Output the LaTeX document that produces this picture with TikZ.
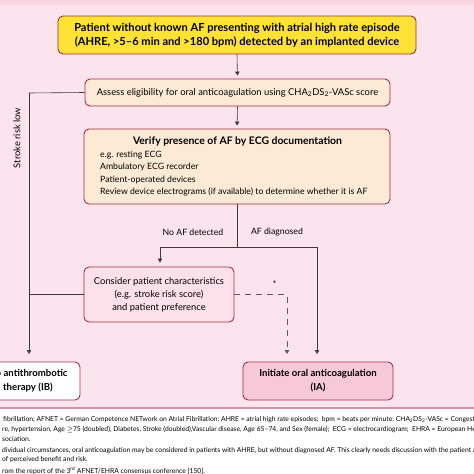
\documentclass[tikz,border=0pt]{standalone}
\usepackage{fontspec}
\setmainfont{Lato}
\usetikzlibrary{arrows.meta}
\definecolor{bgpink}{HTML}{FCE4EE}
\definecolor{toppink}{HTML}{F7D5E1}
\definecolor{boxred}{HTML}{9E2F45}
\definecolor{yel}{HTML}{FFE236}
\definecolor{peach}{HTML}{FCEAD6}
\definecolor{lpink}{HTML}{FCE1EA}
\definecolor{mpink}{HTML}{F7C9D8}
\definecolor{rulepink}{HTML}{D68FA8}
\definecolor{linegray}{HTML}{3A3A3A}
\definecolor{dashgray}{HTML}{6B5360}
\begin{document}
\begin{tikzpicture}[x=1pt,y=-1pt,
  box/.style={draw=boxred, line width=0.9pt, rounded corners=5pt, inner sep=0pt, align=center},
  conn/.style={draw=linegray, line width=0.6pt},
  tip/.style={-{Triangle[length=4pt,width=4.5pt]}},
  arr/.style={conn, tip, shorten >=3pt},
  dsh/.style={draw=dashgray, line width=0.8pt, dash pattern=on 6pt off 5pt},
  lbl/.style={font=\fontsize{8.7}{10}\selectfont, inner sep=0pt},
  txt/.style={font=\fontsize{9.4}{13}\selectfont, inner sep=0pt},
  bld/.style={font=\bfseries\fontsize{9.6}{14}\selectfont},
  fn/.style={font=\fontsize{6.75}{7}\selectfont, inner sep=0pt, anchor=west}]
\useasboundingbox (0,0) rectangle (474,474);
\clip (0,0) rectangle (474,474);
% backgrounds
\fill[bgpink] (0,0) rectangle (474,408);
\fill[toppink] (0,0) rectangle (474,5);
\fill[white] (0,409) rectangle (474,474);
\draw[rulepink, line width=2pt] (0,408) -- (474,408);

% boxes
\node[box, fill=yel, minimum width=358pt, minimum height=38pt,
      font=\bfseries\fontsize{11.1}{14}\selectfont] (top) at (237,35)
  {Patient without known AF presenting with atrial high rate episode\\
   (AHRE, >5–6 min and >180 bpm) detected by an implanted device};
\node[box, fill=peach, minimum width=305pt, minimum height=27pt, txt] (assess) at (237.5,92.5)
  {Assess eligibility for oral anticoagulation using CHA\textsubscript{2}DS\textsubscript{2}-VASc score};
\node[box, fill=peach, minimum width=306pt, minimum height=75pt] (verify) at (237,166.5) {};
\node[inner sep=0pt, font=\bfseries\fontsize{10.4}{12}\selectfont] (vtitle) at (237.5,142)
  {Verify presence of AF by ECG documentation};
\node[txt, font=\fontsize{8.7}{12.3}\selectfont, anchor=north west, align=left] (vlist) at (100,151)
  {e.g. resting ECG\\ Ambulatory ECG recorder\\ Patient-operated devices\\
   Review device electrograms (if available) to determine whether it is AF};
\node[box, fill=lpink, minimum width=150pt, minimum height=55pt, txt] (consider) at (159,294.5)
  {Consider patient characteristics\\ (e.g. stroke risk score)\\ and patient preference};
\node[box, fill=white, minimum width=104pt, minimum height=38pt, bld] (noat) at (28,381)
  {No antithrombotic\\ therapy (IB)};
\node[box, fill=mpink, minimum width=150pt, minimum height=38pt, bld] (oac) at (318,381)
  {Initiate oral anticoagulation\\ (IA)};

% labels
\node[lbl] (nofl) at (193,232) {No AF detected};
\node[lbl] (afdl) at (277,232) {AF diagnosed};
\node[lbl, font=\fontsize{9.4}{11}\selectfont, rotate=90] (srl) at (17,138) {Stroke risk low};
\node[lbl, font=\fontsize{9}{10}\selectfont] (star) at (274.5,284) {*};

% coordinates
\coordinate (lt) at (29,93);
\coordinate (j) at (237,247);
\coordinate (jl) at (160,247);
\coordinate (jr) at (317,247);
\coordinate (dc) at (287,294.5);
\coordinate (lb) at (29,362);
\coordinate (db) at (287,362);
\coordinate (rb) at (317,362);

% connectors
\draw[arr] (top.south) -- (assess.north);
\draw[arr] (assess.south) -- (verify.north);
\draw[conn] (assess.west) -- (lt);
\draw[arr, shorten >=8pt] (lt) -- (lb);
\draw[conn] (consider.west) -- (consider.west -| lt);
\draw[conn] (verify.south) -- (j);
\draw[arr, shorten >=4pt] (j) -- (jl) -- (jl |- consider.north);
\draw[arr, shorten >=8pt] (j) -- (jr) -- (rb);
\draw[dsh, tip, shorten >=8pt] (consider.east) -- (dc) -- (db);

% footnotes
\node[fn] (f1) at (3,419.5) {fibrillation; AFNET = German Competence NETwork on Atrial Fibrillation; AHRE = atrial high rate episodes;\ \ bpm = beats per minute; CHA\textsubscript{2}DS\textsubscript{2}-VASc = Congestive heart failure};
\node[fn] (f2) at (2,429.5) {re, hypertension, Age $\geq$75 (doubled), Diabetes, Stroke (doubled),Vascular disease, Age 65–74, and Sex (female);\ \ ECG = electrocardiogram;\ \ EHRA = European Heart Rhythm};
\node[fn] (f3) at (2,439) {sociation.};
\node[fn] (f4) at (2,450.5) {dividual circumstances, oral anticoagulation may be considered in patients with AHRE, but without diagnosed AF. This clearly needs discussion with the patient and balance};
\node[fn] (f5) at (2,460) {of perceived benefit and risk.};
\node[fn] (f6) at (2,471) {rom the report of the 3\textsuperscript{rd} AFNET/EHRA consensus conference [150].};
\end{tikzpicture}
\end{document}
